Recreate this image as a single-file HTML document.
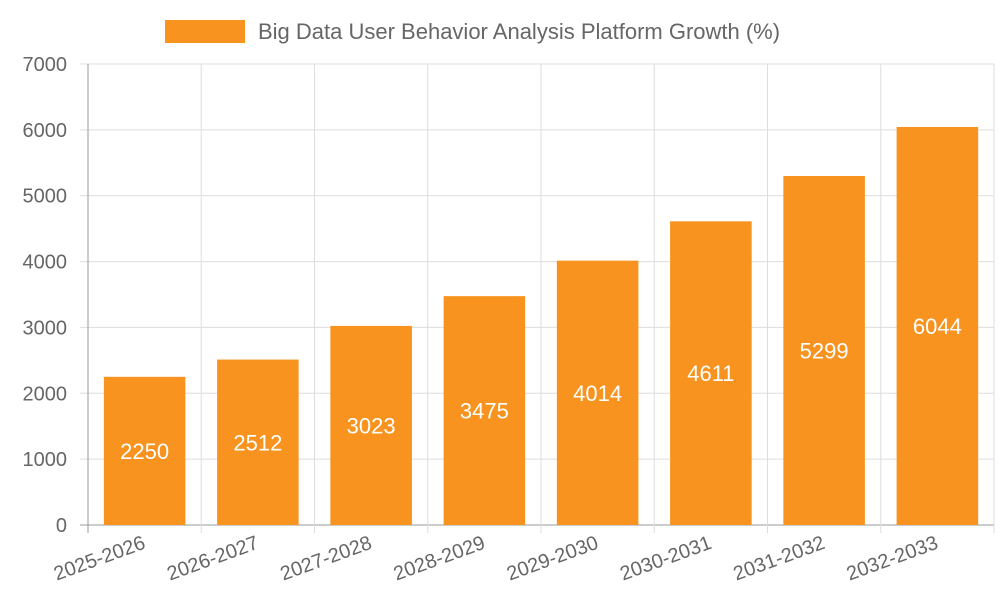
<!DOCTYPE html>
<html><head><meta charset="utf-8"><style>
body{margin:0;background:#fff;}
svg{display:block;font-family:"Liberation Sans",sans-serif;}
</style></head><body>
<svg id="chart" width="1000" height="600">
<g>
<rect x="165" y="20" width="80" height="23" fill="#f7931e"/>
<text x="258" y="39" font-size="22" fill="#666">Big Data User Behavior Analysis Platform Growth (%)</text>
</g>
<g id="grid"></g><g id="bars"></g><g id="labels"></g>
</svg>
<script>
const categories=["2025-2026","2026-2027","2027-2028","2028-2029","2029-2030","2030-2031","2031-2032","2032-2033"];
const values=[2250,2512,3023,3475,4014,4611,5299,6044];
const yTicks=[0,1000,2000,3000,4000,5000,6000,7000];
const L=88,R=994,T=64,B=525,yMax=7000;
const NS="http://www.w3.org/2000/svg";
const y=v=>B-(v/yMax)*(B-T);
const bw=(R-L)/categories.length;
const x=i=>L+bw*i;
function mk(tag,attrs,parent,text){const e=document.createElementNS(NS,tag);for(const k in attrs)e.setAttribute(k,attrs[k]);if(text!==undefined)e.textContent=text;document.getElementById(parent).appendChild(e);return e;}
yTicks.forEach(t=>{
 const l=mk("line",{x1:L-8,x2:R,y1:y(t),y2:y(t),stroke:t===0?"#999":"#ddd","stroke-width":1},"grid");
 
 
 const tx=mk("text",{x:67,y:y(t)+7,"text-anchor":"end","font-size":20,fill:"#666"},"labels",t);
 
 
});
for(let i=0;i<=categories.length;i++){
 const l=mk("line",{x1:x(i),x2:x(i),y1:T,y2:B+8,stroke:i===0?"#999":"#ddd","stroke-width":1},"grid");
 
 
}
categories.forEach((c,i)=>{
 const v=values[i];const w=bw*0.72;const bx=x(i)+(bw-w)/2;
 const r=mk("rect",{x:bx,y:y(v),width:w,height:B-y(v),fill:"#f7931e"},"bars");
 
 
 const vt=mk("text",{x:bx+w/2,y:(y(v)+B)/2+8,"text-anchor":"middle","font-size":22,fill:"#fff"},"labels",v);
 
 
 const cx=x(i)+bw/2+2, cy=548;
 const ct=mk("text",{x:cx,y:cy,"text-anchor":"end","font-size":20,fill:"#666",transform:`rotate(-20 ${cx} ${cy})`},"labels",c);
 
 
});
</script>
</body></html>
